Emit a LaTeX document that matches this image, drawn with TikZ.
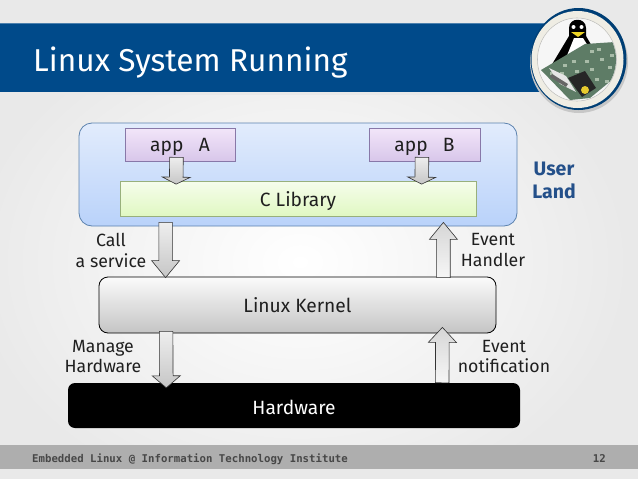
\documentclass[tikz,border=0pt]{standalone}
\usepackage{fontspec}
\setmainfont{Fira Sans}
\newfontfamily\footfont{DejaVu Sans Mono}
\usetikzlibrary{calc}
\definecolor{bgc}{HTML}{E9E9E9}
\definecolor{bandc}{HTML}{004A8A}
\definecolor{footc}{HTML}{AEAEAE}
\definecolor{landc}{HTML}{24508A}
\definecolor{EEEEEE}{HTML}{EEEEEE}
\definecolor{C6C6C6}{HTML}{C6C6C6}
\definecolor{D6D6D6}{HTML}{D6D6D6}
\definecolor{F6F6F6}{HTML}{F6F6F6}
\definecolor{userT}{HTML}{E2ECFC}
\definecolor{userB}{HTML}{B9D2FA}
\definecolor{userL}{HTML}{5C82AE}
\definecolor{appT}{HTML}{F2E6F9}
\definecolor{appB}{HTML}{D8C6EA}
\definecolor{appL}{HTML}{8878A8}
\definecolor{libT}{HTML}{F6FDEC}
\definecolor{libB}{HTML}{E0F8C2}
\definecolor{libL}{HTML}{98B07C}
\definecolor{kerT}{HTML}{FBFBFB}
\definecolor{kerB}{HTML}{C4C4C4}
\definecolor{creamc}{HTML}{EFEDE4}
\definecolor{boardc}{HTML}{5E7C66}
\definecolor{boardl}{HTML}{A9BCA8}
\tikzset{
  x=1pt,y=-1pt,
  lbl/.style={font=\fontsize{17.7}{20.5}\selectfont,text=black!88,align=center,inner sep=0pt},
  box/.style={inner sep=0pt,text=black!88,font=\fontsize{19.2}{22}\selectfont},
  appbox/.style={box,draw=appL,line width=.7pt,top color=appT,bottom color=appB,minimum height=33pt},
  arrow down/.style={draw=black!80,line width=.6pt,top color=EEEEEE,bottom color=C6C6C6},
  arrow up/.style={draw=black!80,line width=.6pt,top color=D6D6D6,bottom color=F6F6F6},
}
\newcommand{\dn}[2]{\raisebox{-#1pt}[0pt][0pt]{#2}}
% from, to, head length, style
\newcommand{\blockarrow}[4]{%
  \coordinate (hb) at ($(#2)!#3!(#1)$);
  \path[#4] ($(#1)!6.8pt!90:(#2)$) -- ($(hb)!6.8pt!90:(#2)$) -- ($(hb)!14pt!90:(#2)$) -- (#2)
    -- ($(hb)!14pt!-90:(#2)$) -- ($(hb)!6.8pt!-90:(#2)$) -- ($(#1)!6.8pt!-90:(#2)$) -- cycle;}
\begin{document}
\begin{tikzpicture}
\useasboundingbox (0,0) rectangle (638,479);
\fill[bgc] (0,0) rectangle (638,479);
% soft central glow
\begin{scope}
\clip (0,95) rectangle (638,445);
\shade[inner color=white,outer color=bgc] (300,262) ellipse (330 and 250);
\end{scope}
% title band
\fill[bandc] (0,23) rectangle (560,92);
\draw[bandc!70!white,line width=.7pt] (0,23) -- (560,23);
\node[anchor=base west,inner sep=0pt,text=white,font=\fontsize{31.6}{36}\selectfont] (title) at (33,71) {Linux System Running};
% logo
\fill[black!22] (579,62) ellipse (49 and 51);
\fill[bandc!85!black] (578.5,59) ellipse (48 and 51);
\fill[creamc] (577.5,59.5) ellipse (46 and 48.5);
\draw[black!25,line width=.6pt] (577,59.5) ellipse (39.5 and 41.5);
\begin{scope}
\clip (577,59.5) ellipse (39 and 41);
\fill[F6F6F6] (530,10) rectangle (625,110);
% penguin
\fill[black] (569,36) -- (586,36) -- (593,48) -- (575,62) -- (551,66) -- cycle;
\fill[black] (569,28) .. controls (569,17) and (586,17) .. (586,28) -- (586,38) -- (569,38) -- cycle;
\fill[white] (574,38) -- (583,38) -- (588,46) -- (574,58) -- (566,58) -- cycle;
\fill[white] (573.5,27) circle (2); \fill[white] (581.5,27) circle (2);
\fill[yellow!70!brown] (571,32) -- (585,32) -- (578,37) -- cycle;
% board
\fill[boardc] (541,70) -- (585,44) -- (615,42) -- (618,75) -- (590,98) -- (570,100) -- cycle;
\foreach \a/\b in {590/50,600/58,608/66,585/60,575/70,595/78,560/72,550/72,605/80,597/48,572/60,610/54,590/68,563/64}
  \fill[boardl] (\a,\b) rectangle +(4,3);
\fill[black!85] (568,78) -- (585,71) -- (596,88) -- (582,97) -- cycle;
\fill[black!10] (549,68) -- (566,76) -- (576,92) -- (560,84) -- cycle;
\fill[black!60] (552,74) -- (568,84) -- (566,87) -- (550,77) -- cycle;
\fill[yellow!60!brown] (585,90) circle (4);
\end{scope}
% footer
\fill[footc] (0,445) rectangle (638,469);
\node[anchor=base west,inner sep=0pt,text=black!72,font=\footfont\bfseries\fontsize{10.7}{12}\selectfont] (foot) at (32,462) {Embedded Linux @ Information Technology Institute};
\node[anchor=base east,inner sep=0pt,text=black!72,font=\footfont\bfseries\fontsize{10.7}{12}\selectfont] (page) at (606,462) {12};
% user land
\node[box,draw=userL,line width=.8pt,rounded corners=13pt,top color=userT,bottom color=userB,minimum width=438pt,minimum height=103pt] (user) at (298,174.5) {};
\node[appbox,minimum width=110pt] (appA) at (180,144.5) {\dn{7}{app\ \ \ A}};
\node[appbox,minimum width=111pt] (appB) at (424.5,144.5) {\dn{7}{app\ \ \ B}};
\node[box,draw=libL,line width=.7pt,top color=libT,bottom color=libB,minimum width=356pt,minimum height=35pt] (clib) at (298,198.5) {\dn{8}{C Library}};
\node[anchor=center,inner sep=0pt,align=center,text=landc,font=\bfseries\fontsize{19.5}{23}\selectfont] (land) at (554,180) {User\\Land};
% kernel, hardware
\node[box,draw=black,line width=.8pt,rounded corners=9pt,top color=kerT,bottom color=kerB,minimum width=397pt,minimum height=56pt] (kernel) at (297.5,305) {\dn{7.7}{Linux Kernel}};
\node[box,fill=black,text=white,rounded corners=7pt,minimum width=452pt,minimum height=45pt] (hw) at (294,405.5) {\dn{8.5}{Hardware}};
% arrow end points
\coordinate (aA1) at ($(appA.south)+(-3.5,-4)$);
\coordinate (aA2) at ($(clib.north west)+(56.5,3.5)$);
\coordinate (aB1) at ($(appB.south)+(-2.5,-4)$);
\coordinate (aB2) at ($(clib.north west)+(302,3.5)$);
\coordinate (c1) at ($(user.south west)+(87,-4)$);
\coordinate (c2) at ($(kernel.north west)+(67,1)$);
\coordinate (e1) at ($(kernel.north east)+(-53,1)$);
\coordinate (e2) at ($(user.south east)+(-74,-4)$);
\coordinate (m1) at ($(kernel.south west)+(67.5,-2)$);
\coordinate (m2) at ($(hw.north west)+(98.5,5)$);
\coordinate (n1) at ($(hw.north east)+(-78,0)$);
\coordinate (n2) at ($(kernel.south east)+(-54,-6)$);
\blockarrow{aA1}{aA2}{7pt}{arrow down}
\blockarrow{aB1}{aB2}{7pt}{arrow down}
\blockarrow{c1}{c2}{17pt}{arrow down}
\blockarrow{e1}{e2}{17pt}{arrow up}
\blockarrow{m1}{m2}{12pt}{arrow down}
\blockarrow{n1}{n2}{15pt}{arrow up}
% labels
\node[lbl] (lcall) at (111,250.5) {Call\\a service};
\node[lbl] (lhand) at (493,250) {Event\\Handler};
\node[lbl] (lman) at (103,356.5) {Manage\\Hardware};
\node[lbl] (lnot) at (504,356.5) {Event\\notification};
\end{tikzpicture}
\end{document}
